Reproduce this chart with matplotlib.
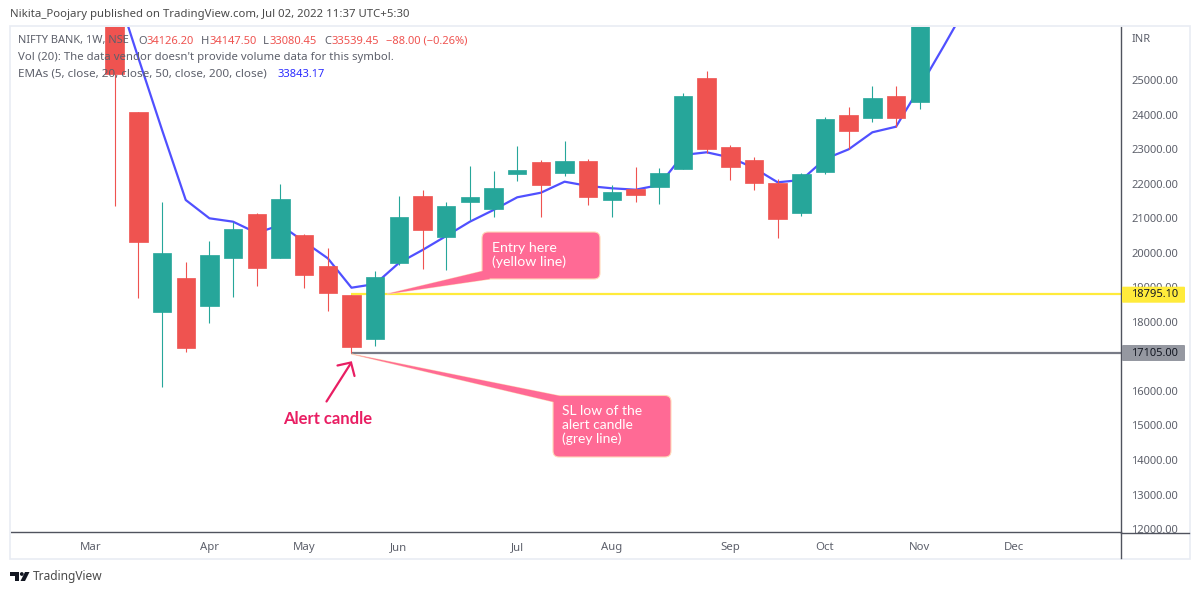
import matplotlib
matplotlib.use("Agg")
import matplotlib.pyplot as plt
from matplotlib.patches import FancyBboxPatch, Polygon, Circle, Rectangle

# weekly candles
opens = [28000, 24082, 18292, 19259, 18457, 19856, 21121, 19856, 20521, 19615, 18776, 17511,
         19711, 21642, 20464, 21477, 21274, 22279, 22635, 22308, 22664, 21535, 21836, 21911,
         22423, 25058, 23060, 22684, 22009, 21141, 22337, 23978, 23909, 24545, 24372]
highs = [29000, 24082, 21459, 19722, 20339, 20898, 21150, 21989, 20540, 20128, 18790, 19471,
         21642, 21816, 21468, 22502, 22357, 23089, 22684, 23234, 22704, 21952, 22473, 22444,
         24632, 25260, 23118, 22780, 22125, 22308, 23920, 24210, 24826, 24826, 28000]
lows = [21352, 18680, 16121, 17134, 17974, 18709, 19045, 19840, 18970, 18312, 17105, 17309,
        19644, 19537, 19508, 20947, 21042, 22076, 21042, 22221, 21390, 21042, 21477, 21419,
        22410, 22895, 22105, 21816, 20417, 21071, 22279, 22994, 23793, 23648, 24160]
closes = [25174, 20319, 19983, 17233, 19934, 20695, 19566, 21555, 19346, 18834, 17262, 19297,
          21034, 20658, 21352, 21613, 21865, 22403, 21969, 22664, 21622, 21749, 21679, 22316,
          24545, 23011, 22481, 22027, 20967, 22270, 23862, 23532, 24488, 23909, 27500]
ema = [27750, 25637, 23553, 21526, 20996, 20898, 20571, 20802, 20319, 19838, 18987, 19094,
       19702, 20078, 20484, 20898, 21237, 21604, 21737, 22056, 21931, 21865, 21824, 21960,
       22829, 22907, 22756, 22452, 22038, 22105, 22713, 22994, 23486, 23648, 24789, 25964, 27171]

entry_price = 18795.10
sl_price = 17105.00
alert_week = 10

# 17000 sits under the grey price tag in the reference, so it is left out
price_ticks = [25000, 24000, 23000, 22000, 21000, 20000, 19000, 18000, 16000, 15000, 14000, 13000, 12000]
month_ticks = [-1, 4, 8, 12, 17, 21, 26, 30, 34, 38]
month_labels = ["Mar", "Apr", "May", "Jun", "Jul", "Aug", "Sep", "Oct", "Nov", "Dec"]

GREEN = "#26A69A"
RED = "#EF5350"
AXIS = "#50535E"
TEXT = "#5D606B"
PINK = "#FF6A95"
MAGENTA = "#E91E63"

plt.rcParams["font.family"] = "Noto Sans"

fig = plt.figure(figsize=(12, 5.94), dpi=100)
ax = fig.add_axes([11 / 1200, 1 - 532 / 594, 1110 / 1200, 505 / 594])

# price pane
weeks = list(range(len(opens)))
colors = [GREEN if c >= o else RED for o, c in zip(opens, closes)]
ax.plot(range(len(ema)), ema, color="#5050FF", lw=1.6, zorder=2)
ax.hlines(entry_price, alert_week, 60, color="#FFEB3B", lw=1.6, zorder=1)
ax.hlines(sl_price, alert_week, 60, color="#787B86", lw=1.6, zorder=1)
ax.vlines(weeks, lows, highs, color=colors, lw=0.8, zorder=3)
bottoms = [min(o, c) for o, c in zip(opens, closes)]
heights = [abs(o - c) for o, c in zip(opens, closes)]
ax.bar(weeks, heights, bottom=bottoms, width=0.78, color=colors, edgecolor=colors, lw=0.5, zorder=4)

ax.set_xlim(-4.38, 42.5)
ax.set_ylim(11915, 26534)
ax.set_xticks(month_ticks)
ax.set_xticklabels(month_labels)
ax.set_yticks(price_ticks)
ax.set_yticklabels([f"{p:.2f}" for p in price_ticks])
ax.yaxis.tick_right()
ax.tick_params(axis="x", length=0, pad=7, labelsize=8.2, labelcolor=TEXT)
ax.tick_params(axis="y", length=0, pad=7.4, labelsize=8, labelcolor=TEXT)
for name in ["top", "left"]:
    ax.spines[name].set_visible(False)
for name in ["bottom", "right"]:
    ax.spines[name].set_color(AXIS)
    ax.spines[name].set_linewidth(1.0)

# overlay in pixel coordinates for the chrome and the drawn notes
ov = fig.add_axes([0, 0, 1, 1], zorder=5)
ov.set_xlim(0, 1200)
ov.set_ylim(594, 0)
ov.axis("off")
ov.patch.set_alpha(0)

ov.add_patch(Rectangle((1122, 533), 66, 24, fc="white", ec="none"))
ov.add_patch(Rectangle((10, 26), 1180, 533, fc="none", ec="#E9ECF3", lw=1.2))
ov.plot([1121, 1121], [533, 558], color=AXIS, lw=1.0)
ov.plot([1121, 1189], [532.5, 532.5], color=AXIS, lw=1.0)


def price_label(y, txt, color):
    ov.add_patch(FancyBboxPatch((1122, y - 8), 63, 16, boxstyle="round,pad=0,rounding_size=1", fc=color, ec="none"))
    ov.text(1131.5, y, txt, color="#131722", fontsize=8, va="center", ha="left")


price_label(294.7, "18795.10", "#FFEB3B")
price_label(353, "17105.00", "#9598A1")
ov.text(1131.5, 40, "INR", color=TEXT, fontsize=8, va="center", ha="left")

# header and legend
ov.text(10, 14.5, "Nikita_Poojary published on TradingView.com, Jul 02, 2022 11:37 UTC+5:30",
        color="#4A4A4A", fontsize=8.2, va="center", ha="left")
ov.text(18, 41, "NIFTY BANK, 1W, NSE", color=TEXT, fontsize=7.9, va="center", ha="left")
for x, txt, col in [(138, "O", TEXT), (146.5, "34126.20", RED), (201, "H", TEXT), (209.5, "34147.50", RED),
                    (263, "L", TEXT), (270, "33080.45", RED), (324, "C", TEXT), (332, "33539.45", RED),
                    (386, "\u221288.00 (\u22120.26%)", RED)]:
    ov.text(x, 41, txt, color=col, fontsize=8, va="center", ha="left")
ov.text(18, 57.5, "Vol (20): The data vendor doesn't provide volume data for this symbol.",
        color=TEXT, fontsize=8.2, va="center", ha="left")
ov.text(18, 74.5, "EMAs (5, close, 20, close, 50, close, 200, close)", color=TEXT, fontsize=8.4, va="center", ha="left")
ov.text(277, 74.5, "33843.17", color="#2B2BFF", fontsize=8, va="center", ha="left")


def callout(x0, y0, x1, y1, tail):
    ov.add_patch(Polygon(tail, closed=True, fc=PINK, ec="#FFD9B8", lw=0.8))
    ov.add_patch(FancyBboxPatch((x0, y0), x1 - x0, y1 - y0, boxstyle="round,pad=0,rounding_size=6",
                                fc=PINK, ec="#FFD9B8", lw=0.8))
    ov.add_patch(Polygon(tail, closed=True, fc=PINK, ec="none"))


callout(482, 232, 600, 279, [(387, 294), (483, 271), (490, 279)])
ov.text(491.5, 247.5, "Entry here", color="white", fontsize=10.2, family="Lato", va="center", ha="left")
ov.text(491.5, 262, "(yellow line)", color="white", fontsize=10.2, family="Lato", va="center", ha="left")

callout(553, 395.5, 671, 457, [(351.5, 354), (560, 396), (554, 402)])
for y, txt in [(411, "SL low of the"), (425, "alert candle"), (439, "(grey line)")]:
    ov.text(562.5, y, txt, color="white", fontsize=10, family="Lato", va="center", ha="left")

# alert arrow
ov.plot([326.5, 351], [401.5, 363], color=MAGENTA, lw=1.6, solid_capstyle="round")
ov.plot([337.5, 351, 354.5], [365.5, 362.5, 376], color=MAGENTA, lw=1.6, solid_capstyle="round", solid_joinstyle="miter")
ov.text(283, 418.5, "Alert candle", color=MAGENTA, fontsize=12, family="Lato", fontweight="bold", va="center", ha="left")

# footer logo
ov.add_patch(Polygon([(10, 572), (19, 572), (19, 581), (15, 581), (15, 575.5), (10, 575.5)], closed=True, fc="#131722", ec="none"))
ov.add_patch(Circle((21.8, 574), 1.9, fc="#131722", ec="none"))
ov.add_patch(Polygon([(25, 572), (29.5, 572), (25, 581), (20.5, 581)], closed=True, fc="#131722", ec="none"))
ov.text(33, 576.5, "TradingView", color="#4A4A4A", fontsize=8.6, va="center", ha="left")

fig.savefig("out.png", dpi=100)
